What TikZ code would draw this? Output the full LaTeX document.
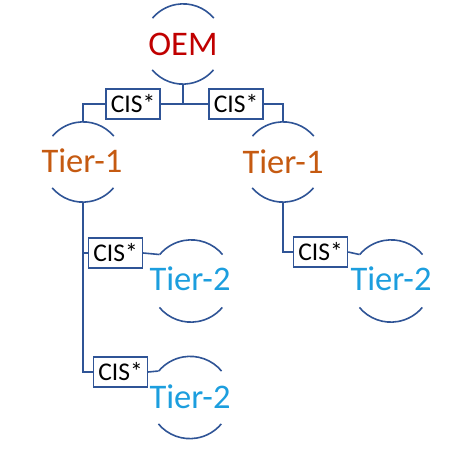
\documentclass[tikz,border=0pt]{standalone}
\usepackage{fontspec}
\setmainfont{Carlito}
\definecolor{rimblue}{RGB}{47,84,150}
\definecolor{oemred}{RGB}{192,0,0}
\definecolor{tierorange}{RGB}{197,90,17}
\definecolor{tierblue}{RGB}{28,158,222}
\begin{document}
\begin{tikzpicture}[
            x=1pt, y=1pt,
            ring/.style={
                circle,
                inner sep=0pt,
                minimum size=80pt
            },
            bigring/.style={
                ring,
                minimum size=82pt
            },
            cisbox/.style={
                rectangle,
                draw=rimblue,
                line width=1.4pt,
                fill=white,
                minimum width=54pt,
                minimum height=30pt,
                inner sep=0pt,
                font=\fontsize{25.5}{28}\selectfont,
                text height=16.5pt,
                text depth=0pt
            },
            ringtext/.style={
                font=\fontsize{34.5}{38}\selectfont,
                inner sep=0pt,
                text height=22pt,
                text depth=0pt
            },
            rim/.style={
                draw=rimblue,
                line width=1.6pt
            }
        ]
            \useasboundingbox (0,0) rectangle (474,448);

            % Rings
            \node[ring] (oem) at (183,404) {};
            \node[ring] (tieroa) at (83,286) {};
            \node[ring] (tierob) at (283,286) {};
            \node[bigring] (tiertwa) at (191,167) {};
            \node[bigring] (tiertwb) at (190,50.5) {};
            \node[bigring] (tiertwc) at (391,167) {};

            % Ring texts
            \node[ringtext, text=oemred] (oemlbl) at (183,403) {OEM};
            \node[ringtext, text=tierorange] (tieroalbl) at (82,287) {Tier-1};
            \node[ringtext, text=tierorange] (tieroblbl) at (283,286) {Tier-1};
            \node[ringtext, text=tierblue] (tiertwalbl) at (190,168.5) {Tier-2};
            \node[ringtext, text=tierblue] (tiertwblbl) at (190,51) {Tier-2};
            \node[ringtext, text=tierblue] (tiertwclbl) at (391,169) {Tier-2};

            % Ring arcs
            \foreach \n/\r in {oem/40, tieroa/40, tierob/40, tiertwa/41, tiertwb/41, tiertwc/41} {
                \draw[rim] (\n.40) arc[start angle=40, end angle=140, radius=\r pt];
                \draw[rim] (\n.220) arc[start angle=220, end angle=320, radius=\r pt];
            }

            % Connectors
            \draw[rim] (oem.south) |- (133,344) -| (tieroa.north);
            \draw[rim] (oem.south) |- (236,344) -| (tierob.north);
            \draw[rim] (tieroa.south) |- (115.5,195);
            \draw[rim] (tieroa.south) |- (120.5,76);
            \draw[rim] (tierob.south) |- (320.5,196);

            % CIS boxes
            \node[cisbox] (cisa) at (133,344) {CIS*};
            \node[cisbox] (cisb) at (236,344) {CIS*};
            \node[cisbox] (cisc) at (115.5,195) {CIS*};
            \node[cisbox] (cisd) at (120.5,76) {CIS*};
            \node[cisbox] (cise) at (320.5,196) {CIS*};

            % Box to ring
            \draw[rim] (cisc.east) -- (tiertwa.140);
            \draw[rim] (cisd.east) -- (tiertwb.140);
            \draw[rim] (cise.east) -- (tiertwc.140);
        \end{tikzpicture}
\end{document}
